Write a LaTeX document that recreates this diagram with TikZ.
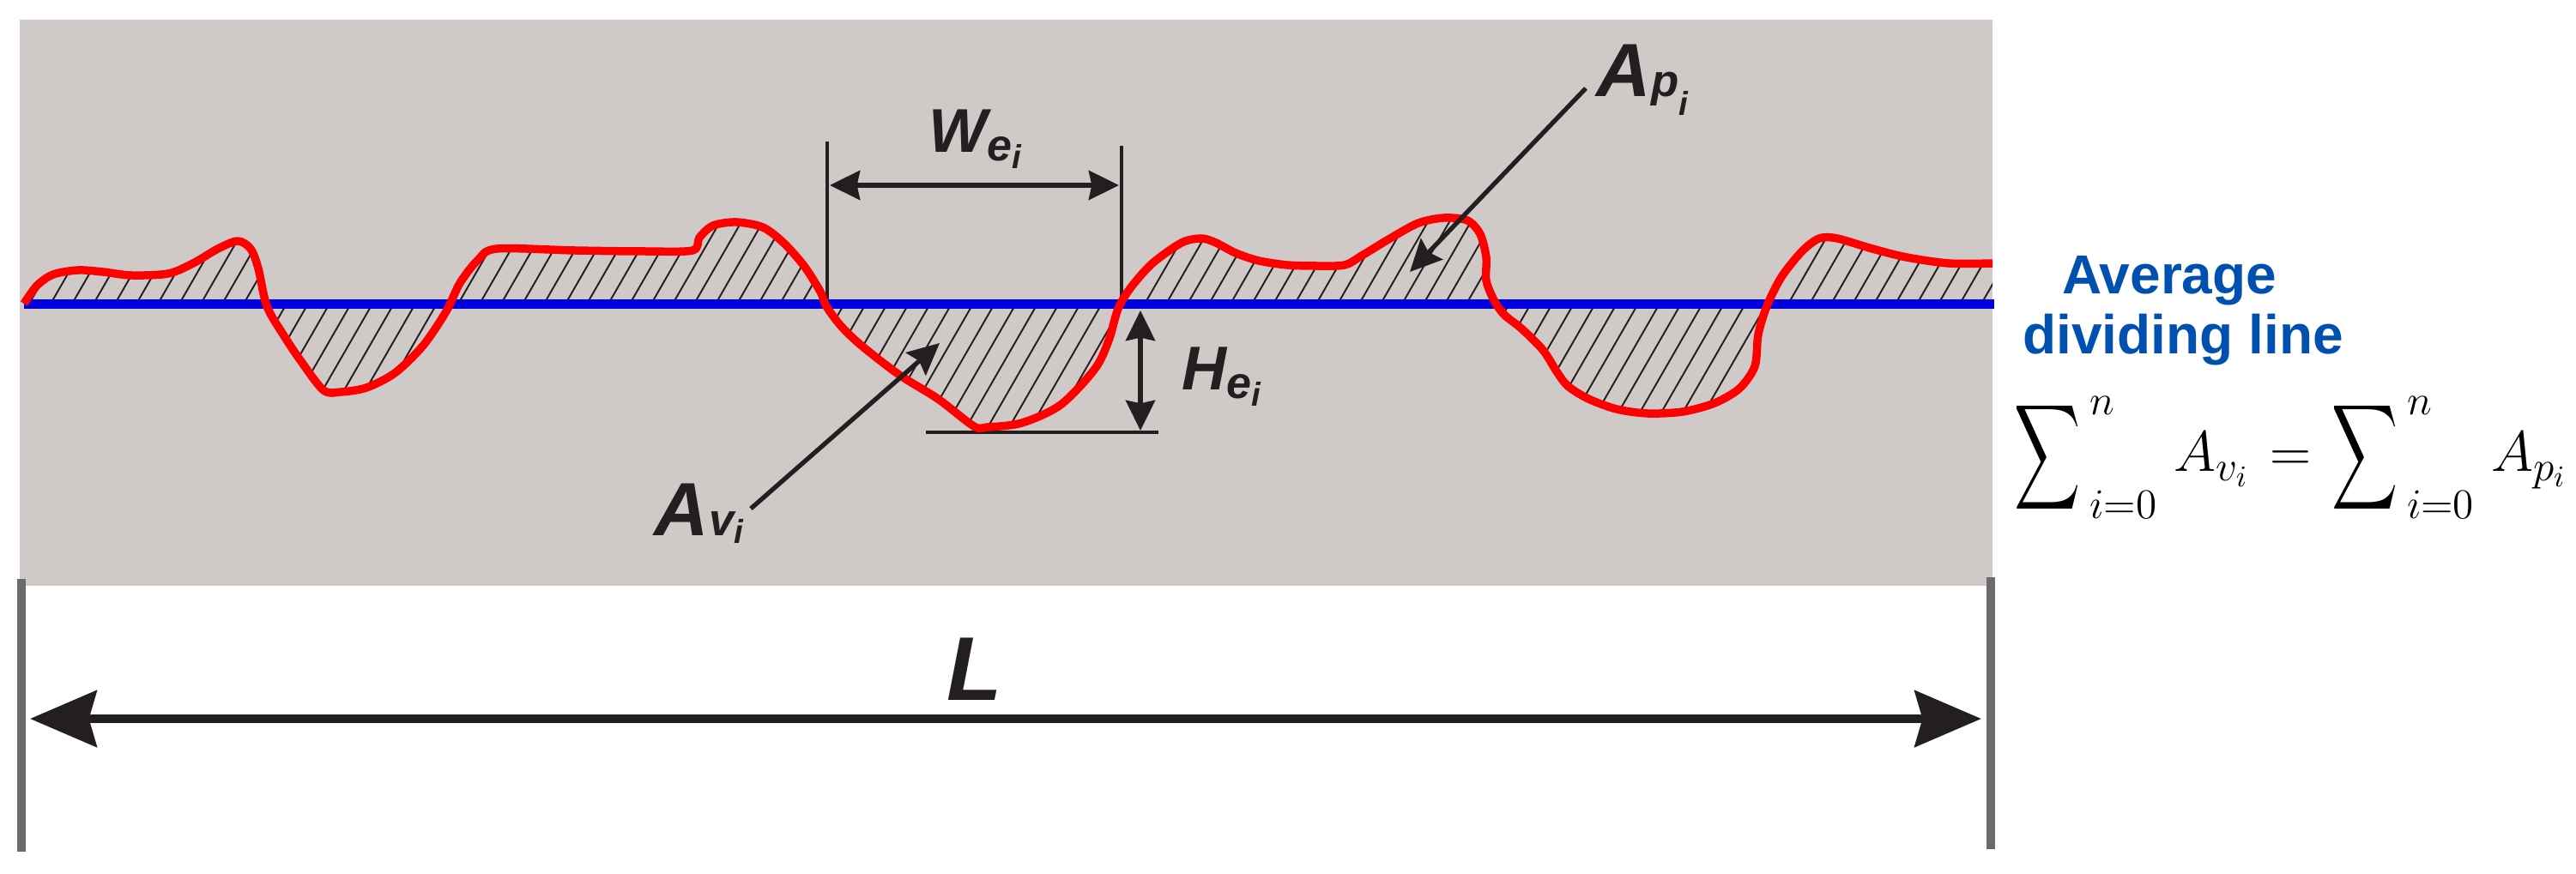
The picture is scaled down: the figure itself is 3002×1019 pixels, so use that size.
\documentclass[tikz,border=0pt]{standalone}
\usepackage{fix-cm}
\usepackage[no-math]{fontspec}
\usepackage{amsmath}
\setmainfont{Liberation Sans}
\usetikzlibrary{arrows.meta}

\DeclareMathSizes{19}{19}{14}{10}

\definecolor{bg_gray}{HTML}{CFCAC7}
\definecolor{tick_gray}{HTML}{6B6B6B}
\definecolor{ink_dark}{HTML}{231F20}
\definecolor{line_blue}{HTML}{0000E0}
\definecolor{text_blue}{HTML}{0050B0}

\newcommand{\profilepath}{plot[smooth,tension=0.5] coordinates {
    (28,354) (43,333) (62,320) (91,315) (120,317) (153,321) (196,319) (225,307) (254,290) (277,281)
    (292,290) (301,313) (311,357) (330,390) (350,420) (377,455) (397,457) (427,452) (460,435) (493,403)
    (520,363) (536,330) (557,303) (579,290) (670,292) (750,293) (807,292) (815,277) (831,263) (858,259)
    (889,265) (913,283) (937,310) (956,340) (963,357) (980,380) (1004,403) (1048,437) (1093,465) (1135,497)
    (1151,498) (1191,493) (1236,472) (1276,430) (1292,397) (1303,360) (1318,335) (1343,307) (1377,283) (1400,278)
    (1417,283) (1440,295) (1467,304) (1500,309) (1533,310) (1567,309) (1587,298) (1620,278) (1653,260) (1683,254)
    (1710,257) (1725,273) (1732,300) (1732,327) (1741,350) (1753,367) (1773,383) (1798,408) (1814,433) (1827,450)
    (1851,465) (1884,477) (1920,482) (1961,480) (1998,470) (2027,453) (2045,427) (2049,390) (2059,357) (2076,323)
    (2100,293) (2120,278) (2141,278) (2182,290) (2222,300) (2271,307) (2322,307)}}
\newcommand{\dimlabel}[2]{{\fontsize{20.5}{24}\selectfont #1}\raisebox{-2.8pt}{\fontsize{14.8}{16}\selectfont #2\raisebox{-2.5pt}{\fontsize{11}{12}\selectfont i}}}
\newcommand{\arealabel}[3]{{\fontsize{25}{28}\selectfont A}{\fontsize{15}{16}\selectfont #1\raisebox{#2}{\fontsize{11}{12}\selectfont #3}}}
\newcommand{\bigsum}{\mathop{\vcenter{\hbox{\scalebox{0.88}[1.41]{$\displaystyle\sum$}\kern3pt}}}\nolimits_{i=0}^{n}\kern2pt}

\begin{document}
\begin{tikzpicture}[
    x=0.01cm,
    y=-0.01cm,
    line_profile/.style={draw=red, line width=2.7pt, line join=round},
    line_mean/.style={draw=line_blue, line width=3.1pt},
    line_hatch/.style={draw=ink_dark, line width=0.55pt},
    line_dim/.style={draw=ink_dark, line width=1.4pt},
    line_tick/.style={draw=tick_gray, line width=2.9pt},
    dim_arrow/.style={
        draw=ink_dark,
        fill=ink_dark,
        line width=1.5pt,
        arrows={Stealth[length=10pt,width=9.7pt,inset=1pt]-Stealth[length=10pt,width=9.7pt,inset=1pt]}
    },
    leader_arrow/.style={
        draw=ink_dark,
        fill=ink_dark,
        line width=1.5pt,
        arrows={-Stealth[length=10.5pt,width=10pt,inset=1.5pt]}
    },
    span_arrow/.style={
        draw=ink_dark,
        fill=ink_dark,
        line width=3.1pt,
        arrows={Stealth[length=22pt,width=18.5pt,inset=2.5pt]-Stealth[length=22pt,width=18.5pt,inset=2.5pt]}
    },
    label_text/.style={inner sep=0pt, anchor=base west, text=ink_dark, font=\bfseries\itshape},
]
    % 背景
    \path[use as bounding box] (0,0) rectangle (3002,1019);
    \fill[bg_gray] (23,23) rectangle (2322,683);

    % 剖面线
    \begin{scope}
        \clip \profilepath -- (2322,354) -- (28,354) -- cycle;
        \foreach \hx in {-100,-75,...,2350}
            \draw[line_hatch] (\hx,500) -- ++(144,-250);
    \end{scope}

    % 定义坐标
    \coordinate (w_left_top) at (964,165);
    \coordinate (w_left_base) at (964,354);
    \coordinate (w_right_top) at (1307,170);
    \coordinate (w_right_base) at (1307,354);
    \coordinate (w_arrow_left) at (967,216);
    \coordinate (w_arrow_right) at (1304,216);
    \coordinate (h_line_left) at (1079,504);
    \coordinate (h_line_right) at (1350,504);
    \coordinate (h_arrow_top) at (1329,362);
    \coordinate (h_arrow_bottom) at (1329,502);
    \coordinate (av_tail) at (875,593);
    \coordinate (av_tip) at (1095,400);
    \coordinate (ap_tail) at (1848,103);
    \coordinate (ap_tip) at (1643,317);
    \coordinate (mean_left) at (28,354.5);
    \coordinate (mean_right) at (2324,354.5);
    \coordinate (tick_left_top) at (25,675);
    \coordinate (tick_left_bottom) at (25,993);
    \coordinate (tick_right_top) at (2320,673);
    \coordinate (tick_right_bottom) at (2320,990);
    \coordinate (span_left) at (35,838);
    \coordinate (span_right) at (2309,838);

    % 尺寸线
    \draw[line_dim] (w_left_top) -- (w_left_base);
    \draw[line_dim] (w_right_top) -- (w_right_base);
    \draw[line_dim] (h_line_left) -- (h_line_right);
    \draw[dim_arrow] (w_arrow_left) -- (w_arrow_right);
    \draw[dim_arrow] (h_arrow_top) -- (h_arrow_bottom);

    % 中线与轮廓
    \draw[line_mean] (mean_left) -- (mean_right);
    \draw[line_profile] \profilepath;

    % 画箭头
    \draw[leader_arrow] (av_tail) -- (av_tip);
    \draw[leader_arrow] (ap_tail) -- (ap_tip);
    \draw[line_tick] (tick_left_top) -- (tick_left_bottom);
    \draw[line_tick] (tick_right_top) -- (tick_right_bottom);
    \draw[span_arrow] (span_left) -- (span_right);

    % 标注
    \node[label_text] (label_w) at (1082,178) {\dimlabel{W}{e}};
    \node[label_text] (label_h) at (1377,455) {\dimlabel{H}{e}};
    \node[label_text] (label_av) at (762,625) {\arealabel{v}{-2.4pt}{i}};
    \node[label_text] (label_ap) at (1860,113) {\arealabel{p}{-6pt}{i}};
    \node[label_text, font=\bfseries\itshape\fontsize{30}{34}\selectfont] (label_l) at (1103,817) {L};
    \node[align=center, text=text_blue, inner sep=0pt, font=\bfseries\fontsize{18.2}{19.9}\selectfont] (label_mean) at (2544,362) {Average\hspace*{9pt}\\dividing line};
    \node[inner sep=0pt, anchor=base west, font=\fontsize{19}{22}\selectfont] (label_sum) at (2347,550) {$\bigsum A_{v_i} \kern1.5pt=\kern1.5pt \bigsum A_{p_i}$};
\end{tikzpicture}
\end{document}
